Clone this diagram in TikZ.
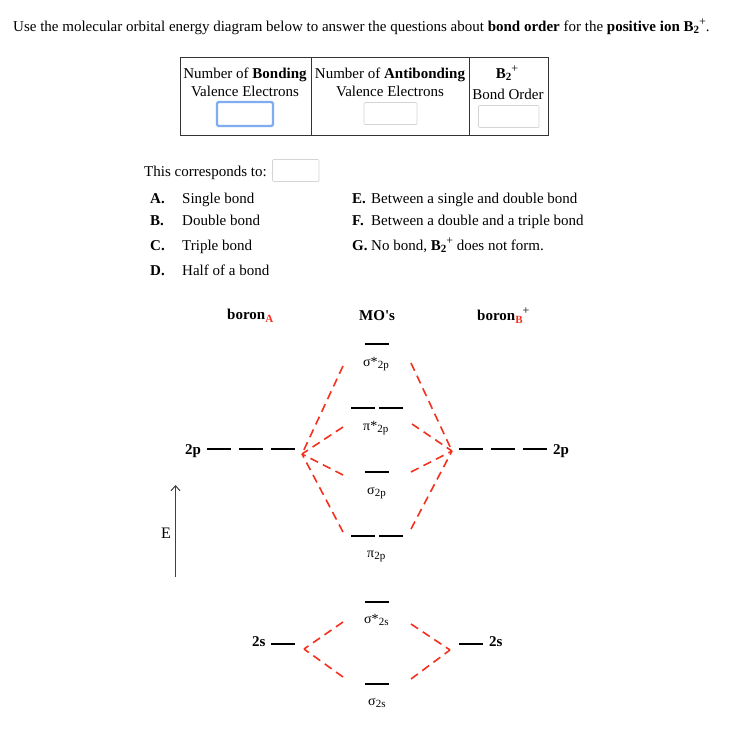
\documentclass[tikz,border=0pt]{standalone}
\usepackage{fontspec}
\usetikzlibrary{arrows.meta}
\setmainfont{Liberation Serif}
\definecolor{redline}{HTML}{F5301E}
\definecolor{focusblue}{HTML}{7FADF0}
\definecolor{boxedge}{HTML}{D4D4D4}
\newcommand{\lowr}[2][2.5pt]{\raisebox{-#1}{\fontsize{11}{11}\selectfont #2}}
\newcommand{\upr}[1]{\raisebox{5.5pt}{\fontsize{12}{12}\selectfont #1}}
\newcommand{\Btwo}{\textbf{B\lowr{2}}\upr{+}}
\tikzset{
  txt/.style={anchor=base west,inner sep=0pt,font=\fontsize{15}{17}\selectfont},
  ctr/.style={anchor=base,inner sep=0pt,font=\fontsize{15}{17}\selectfont},
  mol/.style={anchor=base west,inner sep=0pt,font=\fontsize{14}{16}\selectfont},
  level/.style={draw=none,fill=black,minimum width=24pt,minimum height=1.7pt,inner sep=0pt,outer sep=0pt},
  mix/.style={draw=redline,line width=1.6pt,dash pattern=on 8.5pt off 5.5pt},
  cell/.style={draw=black!80,line width=1pt},
  entry/.style={draw=boxedge,fill=white,line width=.7pt,rounded corners=1pt},
}
\begin{document}
\begin{tikzpicture}[x=1pt,y=-1pt]
\useasboundingbox (0,0) rectangle (731,737);
\fill[white] (0,0) rectangle (731,737);
% heading
\node[txt] (head) at (13,31) {Use the molecular orbital energy diagram below to answer the questions about \textbf{bond order} for the \textbf{positive ion B\lowr{2}}\upr{+}.};
% table
\draw[cell] (180,57) rectangle (548,135);
\draw[cell] (311,57) -- (311,135);
\draw[cell] (469,57) -- (469,135);
\node[ctr] (c1a) at (245,78) {Number of \textbf{Bonding}};
\node[ctr] (c1b) at (245,96) {Valence Electrons};
\node[ctr] (c2a) at (390,78) {Number of \textbf{Antibonding}};
\node[ctr] (c2b) at (390,96) {Valence Electrons};
\node[ctr] (c3a) at (507,78) {\Btwo};
\node[ctr] (c3b) at (508,99) {Bond Order};
\draw[focusblue,line width=2.4pt,fill=white,rounded corners=1.5pt] (217,102) rectangle (273,126);
\draw[entry] (364,102.5) rectangle (417,124.5);
\draw[entry] (478.5,105.5) rectangle (539,127.5);
% options
\node[txt] (corr) at (144,176) {This corresponds to:};
\draw[entry] (272.5,159.5) rectangle (319,181.5);
\node[txt] (la) at (150,203) {\textbf{A.}};
\node[txt] (ta) at (182,203) {Single bond};
\node[txt] (lb) at (150,225) {\textbf{B.}};
\node[txt] (tb) at (182,225) {Double bond};
\node[txt] (lc) at (150,250) {\textbf{C.}};
\node[txt] (tc) at (182,250) {Triple bond};
\node[txt] (ld) at (150,275) {\textbf{D.}};
\node[txt] (td) at (182,275) {Half of a bond};
\node[txt] (le) at (352,203) {\textbf{E.}};
\node[txt] (te) at (371,203) {Between a single and double bond};
\node[txt] (lf) at (352,225) {\textbf{F.}};
\node[txt] (tf) at (371,225) {Between a double and a triple bond};
\node[txt] (lg) at (352,250) {\textbf{G.}};
\node[txt] (tg) at (371,250) {No bond, \Btwo{} does not form.};
% headers
\node[txt] (bA) at (227,319) {\textbf{boron\lowr[3.5pt]{\textcolor{redline}{A}}}};
\node[txt] (mo) at (359,320) {\textbf{MO\textquotesingle s}};
\node[txt] (bB) at (477,320) {\textbf{boron\lowr[3.5pt]{\textcolor{redline}{B}}}\upr{+}};
% atomic levels
\node[txt] (p2l) at (185,454) {\textbf{2p}};
\node[level] (pa1) at (219,449) {};
\node[level] (pa2) at (251,449) {};
\node[level] (pa3) at (283,449) {};
\node[level] (pb1) at (471,449) {};
\node[level] (pb2) at (503,449) {};
\node[level] (pb3) at (535,449) {};
\node[txt] (p2r) at (553,454) {\textbf{2p}};
\node[txt] (s2l) at (252,646) {\textbf{2s}};
\node[level] (sa) at (283,644) {};
\node[level] (sb) at (471,644) {};
\node[txt] (s2r) at (489,646) {\textbf{2s}};
% molecular levels
\node[level] (m1) at (377,344) {};
\node[mol] at (363,366) {σ*\lowr{2p}};
\node[level] (m2a) at (363,408) {};
\node[level] (m2b) at (391,408) {};
\node[mol] at (363,430) {π*\lowr{2p}};
\node[level] (m3) at (377,472) {};
\node[mol] at (367,494) {σ\lowr{2p}};
\node[level] (m4a) at (363,536) {};
\node[level] (m4b) at (391,536) {};
\node[mol] at (367,557) {π\lowr{2p}};
\node[level] (m5) at (377,602) {};
\node[mol] at (364,623) {σ*\lowr{2s}};
\node[level] (m6) at (377,684) {};
\node[mol] at (368,705) {σ\lowr{2s}};
% correlation lines
\coordinate (vl) at (302,454);
\coordinate (vr) at (452,451);
\coordinate (vls) at (304,649);
\coordinate (vrs) at (450,650);
\coordinate (l1) at (343,366);
\coordinate (l2) at (343,427);
\coordinate (l3) at (343,475);
\coordinate (l4) at (343,532);
\coordinate (r1) at (411,363);
\coordinate (r2) at (412,424);
\coordinate (r3) at (411,472);
\coordinate (r4) at (411,529);
\coordinate (l5) at (343,622);
\coordinate (l6) at (343,677);
\coordinate (r5) at (411,624);
\coordinate (r6) at (411,679);
\foreach \e in {l1,l2,l3,l4} \draw[mix] (\e) -- (vl);
\foreach \e in {r1,r2,r3,r4} \draw[mix] (\e) -- (vr);
\foreach \e in {l5,l6} \draw[mix] (\e) -- (vls);
\foreach \e in {r5,r6} \draw[mix] (\e) -- (vrs);
% energy axis
\coordinate (e0) at (175.5,577);
\coordinate (e1) at (175.5,485);
\draw[black!75,line width=1pt,-{Straight Barb[length=5pt,width=9pt]}] (e0) -- (e1);
\node[ctr,font=\fontsize{16}{17}\selectfont] (E) at (166,538) {E};
\end{tikzpicture}
\end{document}
